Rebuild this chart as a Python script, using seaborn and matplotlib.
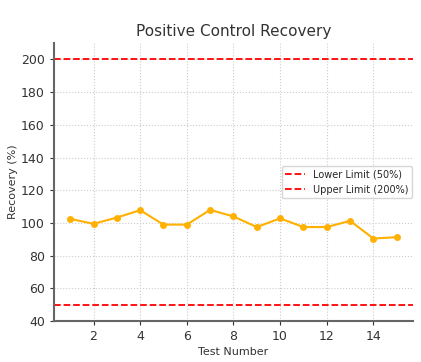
import numpy as np
import pandas as pd
import matplotlib
matplotlib.use("Agg")
import matplotlib.pyplot as plt
import seaborn as sns

# Data
test_numbers = list(range(1, 16))
recovery = [102.5, 99.5, 103.3, 107.8, 99.0, 99.0, 108.0, 104.0, 97.5, 102.8,
            97.5, 97.5, 101.3, 90.5, 91.3]
lower_limit = 50
upper_limit = 200

df = pd.DataFrame({"Test Number": test_numbers, "Recovery (%)": recovery})

sns.set_style("whitegrid", {"grid.linestyle": ":", "grid.color": "#cccccc",
                            "axes.edgecolor": "#666666"})
plt.rcParams["font.family"] = ["DejaVu Sans"]

fig = plt.figure(figsize=(4.21, 3.62), dpi=100)
ax = fig.add_axes([0.128, 0.113, 0.853, 0.768])

sns.lineplot(data=df, x="Test Number", y="Recovery (%)", marker="o",
             color="#FFB000", markersize=5, markeredgewidth=0, linewidth=1.5, ax=ax)
ax.axhline(lower_limit, color="red", linestyle="--", linewidth=1.3, label="Lower Limit (50%)")
ax.axhline(upper_limit, color="red", linestyle="--", linewidth=1.3, label="Upper Limit (200%)")

ax.set_ylim(40, 210)
ax.set_xlim(0.3, 15.7)
ax.set_title("Positive Control Recovery", fontsize=11, color="#333333", pad=5)
ax.set_xlabel("Test Number", fontsize=8, color="#333333", labelpad=3)
ax.set_ylabel("Recovery (%)", fontsize=8, color="#333333", labelpad=2)
ax.tick_params(labelsize=9, colors="#333333", length=3, left=True, bottom=True)
for s in ["left", "bottom"]:
    ax.spines[s].set_linewidth(1.5)
sns.despine(ax=ax)
ax.legend(loc="center right", fontsize=7, frameon=True, borderaxespad=0.1)

fig.savefig("out.png", dpi=100)
